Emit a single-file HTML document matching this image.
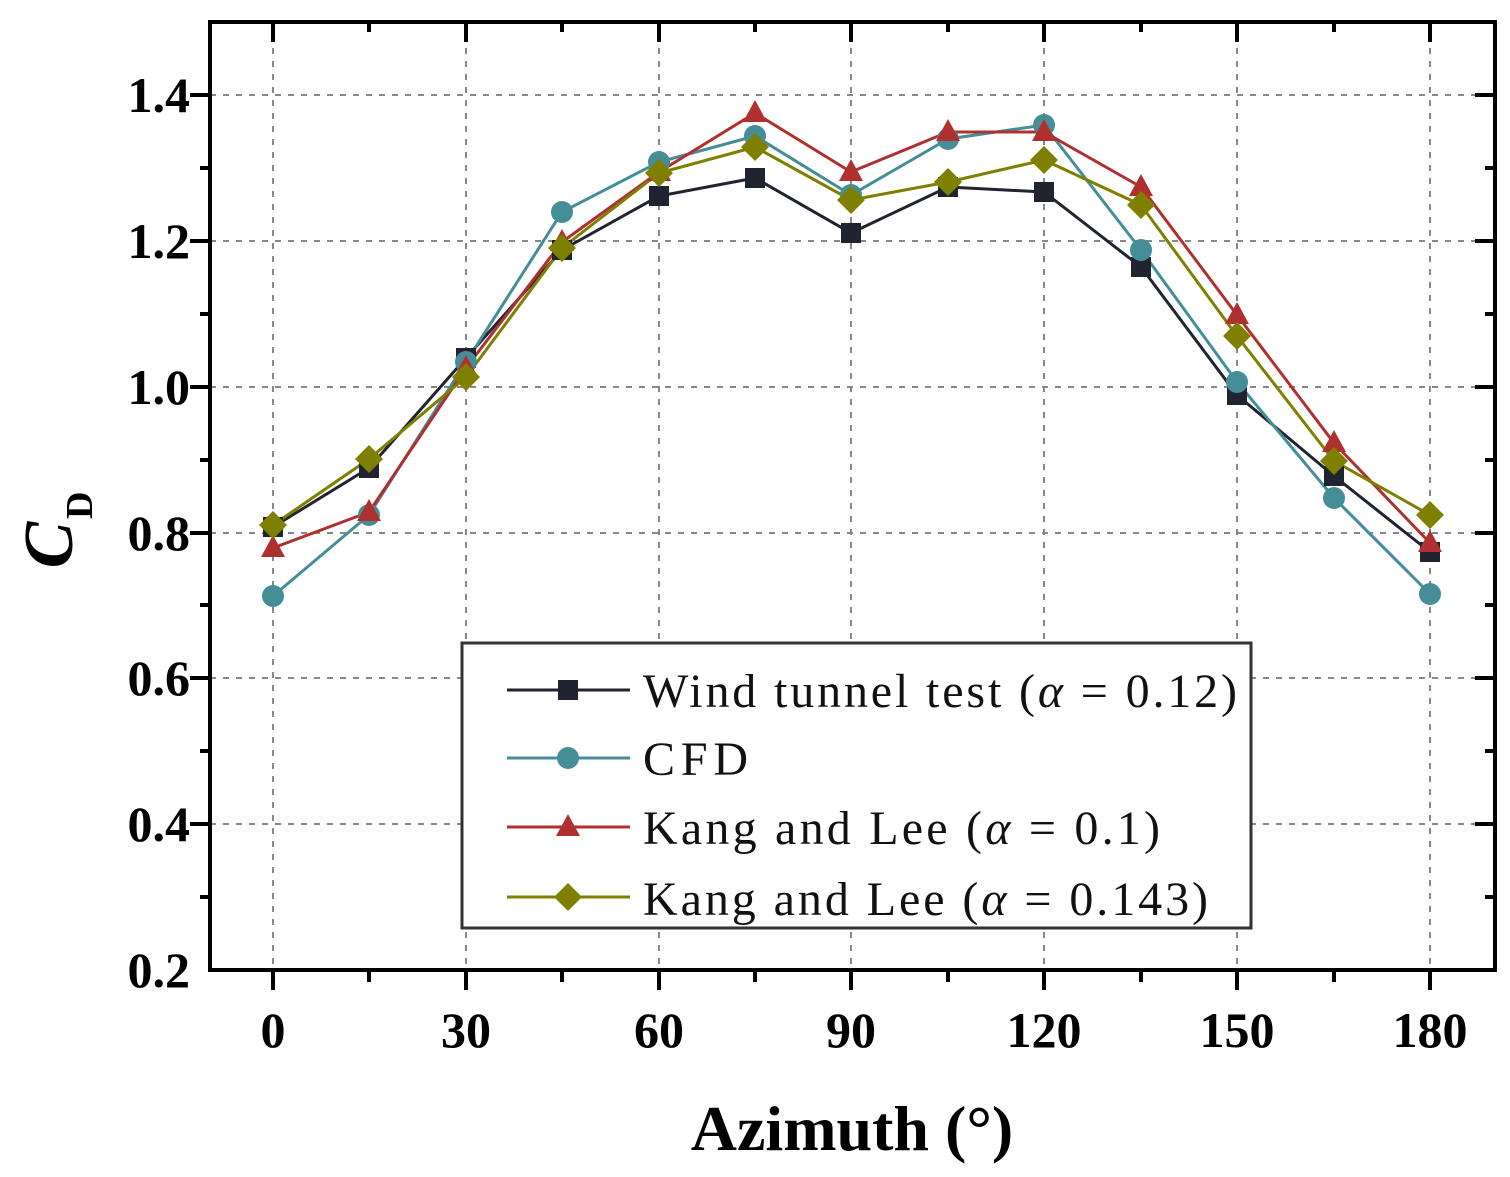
<!DOCTYPE html>
<html><head><meta charset="utf-8"><style>body{margin:0;background:#fff}svg{display:block}</style></head><body>
<svg width="1510" height="1177" viewBox="0 0 1510 1177" xmlns="http://www.w3.org/2000/svg" font-family="Liberation Serif, serif">
<defs>
<g id="sq"><rect x="-10" y="-10" width="20" height="20" fill="#1f2430"/></g>
<g id="ci"><circle r="11" fill="#458d97"/></g>
<g id="tr"><polygon points="0,-13 12,9 -12,9" fill="#b03030"/></g>
<g id="di"><polygon points="0,-14 14,0 0,14 -14,0" fill="#7f7f00"/></g>
</defs>
<g stroke="#888" stroke-width="2" stroke-dasharray="6,7">
<line x1="210" y1="95" x2="1495" y2="95"/><line x1="210" y1="241" x2="1495" y2="241"/><line x1="210" y1="387" x2="1495" y2="387"/><line x1="210" y1="533" x2="1495" y2="533"/><line x1="210" y1="678" x2="1495" y2="678"/><line x1="210" y1="824" x2="1495" y2="824"/>
<line x1="273" y1="22" x2="273" y2="970"/><line x1="466" y1="22" x2="466" y2="970"/><line x1="659" y1="22" x2="659" y2="970"/><line x1="851" y1="22" x2="851" y2="970"/><line x1="1044" y1="22" x2="1044" y2="970"/><line x1="1237" y1="22" x2="1237" y2="970"/><line x1="1430" y1="22" x2="1430" y2="970"/>
</g>
<g stroke="#000" stroke-width="4" fill="none">
<rect x="210" y="22" width="1285" height="948"/>
</g>
<g stroke="#000" stroke-width="4">
<line x1="273" y1="970" x2="273" y2="990"/><line x1="369" y1="970" x2="369" y2="982"/><line x1="466" y1="970" x2="466" y2="990"/><line x1="562" y1="970" x2="562" y2="982"/><line x1="659" y1="970" x2="659" y2="990"/><line x1="755" y1="970" x2="755" y2="982"/><line x1="851" y1="970" x2="851" y2="990"/><line x1="948" y1="970" x2="948" y2="982"/><line x1="1044" y1="970" x2="1044" y2="990"/><line x1="1141" y1="970" x2="1141" y2="982"/><line x1="1237" y1="970" x2="1237" y2="990"/><line x1="1334" y1="970" x2="1334" y2="982"/><line x1="1430" y1="970" x2="1430" y2="990"/>
<line x1="273" y1="22" x2="273" y2="42"/><line x1="369" y1="22" x2="369" y2="32"/><line x1="466" y1="22" x2="466" y2="42"/><line x1="562" y1="22" x2="562" y2="32"/><line x1="659" y1="22" x2="659" y2="42"/><line x1="755" y1="22" x2="755" y2="32"/><line x1="851" y1="22" x2="851" y2="42"/><line x1="948" y1="22" x2="948" y2="32"/><line x1="1044" y1="22" x2="1044" y2="42"/><line x1="1141" y1="22" x2="1141" y2="32"/><line x1="1237" y1="22" x2="1237" y2="42"/><line x1="1334" y1="22" x2="1334" y2="32"/><line x1="1430" y1="22" x2="1430" y2="42"/>
<line x1="190" y1="95" x2="210" y2="95"/><line x1="200" y1="168" x2="210" y2="168"/><line x1="190" y1="241" x2="210" y2="241"/><line x1="200" y1="314" x2="210" y2="314"/><line x1="190" y1="387" x2="210" y2="387"/><line x1="200" y1="460" x2="210" y2="460"/><line x1="190" y1="533" x2="210" y2="533"/><line x1="200" y1="605" x2="210" y2="605"/><line x1="190" y1="678" x2="210" y2="678"/><line x1="200" y1="751" x2="210" y2="751"/><line x1="190" y1="824" x2="210" y2="824"/><line x1="200" y1="897" x2="210" y2="897"/>
<line x1="1475" y1="95" x2="1495" y2="95"/><line x1="1485" y1="168" x2="1495" y2="168"/><line x1="1475" y1="241" x2="1495" y2="241"/><line x1="1485" y1="314" x2="1495" y2="314"/><line x1="1475" y1="387" x2="1495" y2="387"/><line x1="1485" y1="460" x2="1495" y2="460"/><line x1="1475" y1="533" x2="1495" y2="533"/><line x1="1485" y1="605" x2="1495" y2="605"/><line x1="1475" y1="678" x2="1495" y2="678"/><line x1="1485" y1="751" x2="1495" y2="751"/><line x1="1475" y1="824" x2="1495" y2="824"/><line x1="1485" y1="897" x2="1495" y2="897"/>
</g>
<g font-size="50" font-weight="bold" text-anchor="end">
<text x="190" y="112">1.4</text><text x="190" y="258">1.2</text><text x="190" y="404">1.0</text><text x="190" y="550">0.8</text><text x="190" y="695">0.6</text><text x="190" y="841">0.4</text><text x="190" y="987">0.2</text>
</g>
<g font-size="50" font-weight="bold" text-anchor="middle">
<text x="273" y="1047">0</text><text x="466" y="1047">30</text><text x="659" y="1047">60</text><text x="851" y="1047">90</text><text x="1044" y="1047">120</text><text x="1237" y="1047">150</text><text x="1430" y="1047">180</text>
<text x="852" y="1150" font-size="64">Azimuth (°)</text>
</g>
<g transform="translate(72,545) rotate(-90)" font-weight="bold"><text x="0" y="0" font-size="70" text-anchor="middle" font-style="italic">C</text><text x="26" y="20" font-size="38">D</text></g>
<g fill="none" stroke-width="3">
<polyline stroke="#1f2430" points="273,527 369,468 466,358 562,250 659,196 755,178 851,233 948,187 1044,192 1141,267 1237,395 1334,476 1430,552"/>
<polyline stroke="#458d97" points="273,596 369,515 466,362 562,212 659,162 755,136 851,195 948,139 1044,125 1141,250 1237,382 1334,498 1430,594"/>
<polyline stroke="#b03030" points="273,548 369,512 466,368 562,242 659,172 755,113 851,172 948,132 1044,132 1141,187 1237,315 1334,443 1430,543"/>
<polyline stroke="#7f7f00" points="273,525 369,459 466,377 562,248 659,173 755,147 851,200 948,182 1044,160 1141,205 1237,336 1334,461 1430,515"/>
</g>
<g><use href="#sq" x="273" y="527"/><use href="#sq" x="369" y="468"/><use href="#sq" x="466" y="358"/><use href="#sq" x="562" y="250"/><use href="#sq" x="659" y="196"/><use href="#sq" x="755" y="178"/><use href="#sq" x="851" y="233"/><use href="#sq" x="948" y="187"/><use href="#sq" x="1044" y="192"/><use href="#sq" x="1141" y="267"/><use href="#sq" x="1237" y="395"/><use href="#sq" x="1334" y="476"/><use href="#sq" x="1430" y="552"/></g>
<g><use href="#ci" x="273" y="596"/><use href="#ci" x="369" y="515"/><use href="#ci" x="466" y="362"/><use href="#ci" x="562" y="212"/><use href="#ci" x="659" y="162"/><use href="#ci" x="755" y="136"/><use href="#ci" x="851" y="195"/><use href="#ci" x="948" y="139"/><use href="#ci" x="1044" y="125"/><use href="#ci" x="1141" y="250"/><use href="#ci" x="1237" y="382"/><use href="#ci" x="1334" y="498"/><use href="#ci" x="1430" y="594"/></g>
<g><use href="#tr" x="273" y="548"/><use href="#tr" x="369" y="512"/><use href="#tr" x="466" y="368"/><use href="#tr" x="562" y="242"/><use href="#tr" x="659" y="172"/><use href="#tr" x="755" y="113"/><use href="#tr" x="851" y="172"/><use href="#tr" x="948" y="132"/><use href="#tr" x="1044" y="132"/><use href="#tr" x="1141" y="187"/><use href="#tr" x="1237" y="315"/><use href="#tr" x="1334" y="443"/><use href="#tr" x="1430" y="543"/></g>
<g><use href="#di" x="273" y="525"/><use href="#di" x="369" y="459"/><use href="#di" x="466" y="377"/><use href="#di" x="562" y="248"/><use href="#di" x="659" y="173"/><use href="#di" x="755" y="147"/><use href="#di" x="851" y="200"/><use href="#di" x="948" y="182"/><use href="#di" x="1044" y="160"/><use href="#di" x="1141" y="205"/><use href="#di" x="1237" y="336"/><use href="#di" x="1334" y="461"/><use href="#di" x="1430" y="515"/></g>
<rect x="462" y="643" width="789" height="285" fill="#fff" stroke="#333" stroke-width="3"/>
<g stroke-width="3">
<line x1="507" y1="690" x2="630" y2="690" stroke="#1f2430"/><use href="#sq" x="568" y="690"/>
<line x1="507" y1="758" x2="630" y2="758" stroke="#458d97"/><use href="#ci" x="568" y="758"/>
<line x1="507" y1="827" x2="630" y2="827" stroke="#b03030"/><use href="#tr" x="568" y="827"/>
<line x1="507" y1="897" x2="630" y2="897" stroke="#7f7f00"/><use href="#di" x="568" y="897"/>
</g>
<g font-size="48" fill="#111">
<text x="643" y="707" textLength="594" lengthAdjust="spacing">Wind tunnel test (<tspan font-style="italic">α</tspan> = 0.12)</text>
<text x="643" y="775" textLength="105" lengthAdjust="spacing">CFD</text>
<text x="643" y="844" textLength="517" lengthAdjust="spacing">Kang and Lee (<tspan font-style="italic">α</tspan> = 0.1)</text>
<text x="643" y="915" textLength="565" lengthAdjust="spacing">Kang and Lee (<tspan font-style="italic">α</tspan> = 0.143)</text>
</g>
</svg>
</body></html>
